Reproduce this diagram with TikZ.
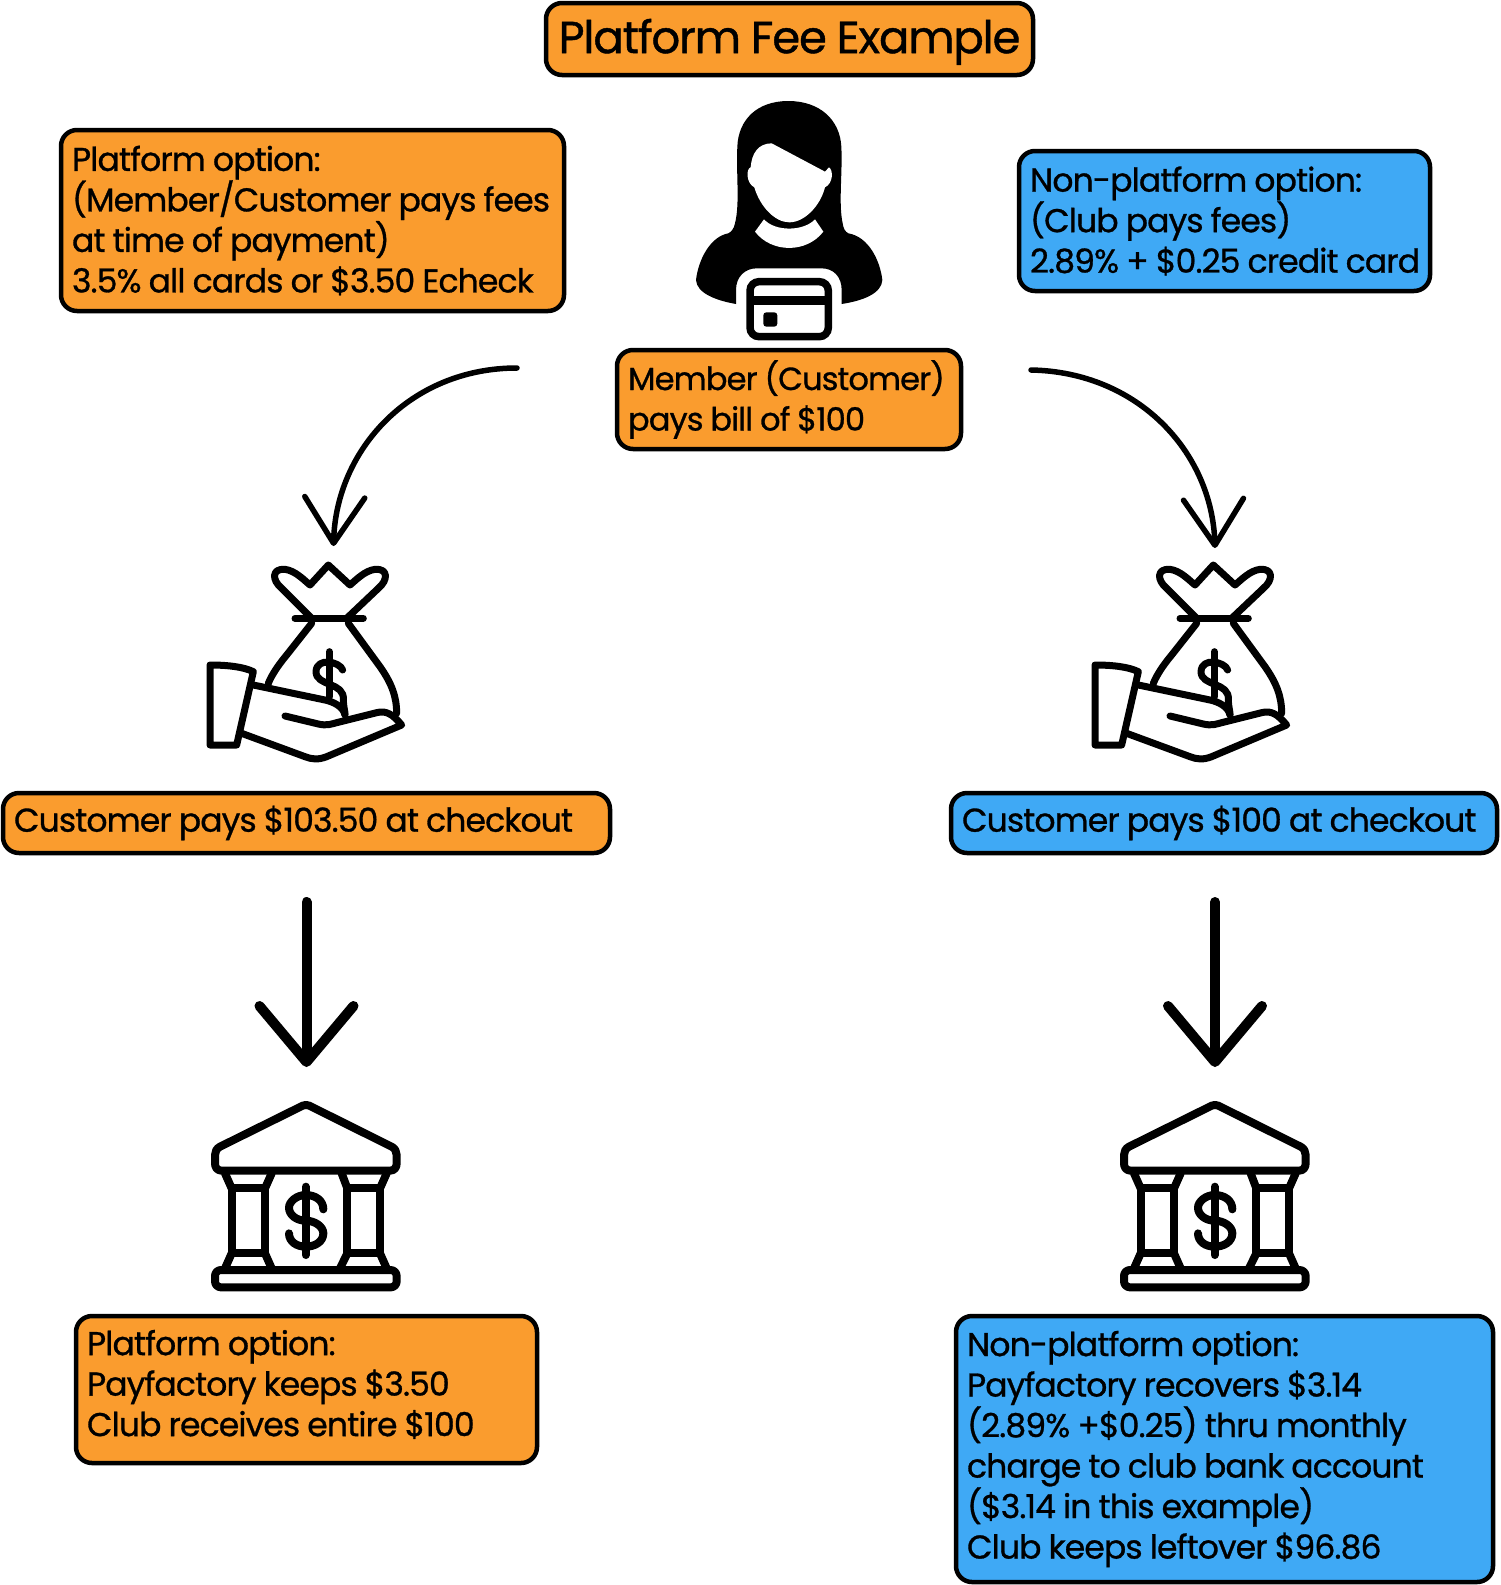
\documentclass[tikz,border=0pt]{standalone}
\usepackage{fontspec}
\setmainfont[FakeBold=0.9, LetterSpace=-2.6, WordSpace=0.9]{Poppins}
\usetikzlibrary{arrows.meta}
\definecolor{feeorange}{HTML}{FA9C2E}
\definecolor{feeblue}{HTML}{3FA9F5}

\begin{document}
\begin{tikzpicture}[x=1pt, y=-1pt,
  optionbox/.style={draw=black, line width=4.5pt, rounded corners=16pt, inner xsep=11pt, inner ysep=0pt, align=flush left, font=\fontsize{33}{40.5}\selectfont},
  orangebox/.style={optionbox, fill=feeorange},
  bluebox/.style={optionbox, fill=feeblue},
  lightflow/.style={line width=5.5pt, line cap=round, -{Straight Barb[length=46pt,width=60pt,round]}},
  heavyflow/.style={line width=10pt, line cap=round, -{Straight Barb[length=56pt,width=94pt,round]}},
  icon/.style={scale=1/3},
  moneybag/.pic={
    \begin{scope}[line width=7pt, line cap=round, line join=round]
    \draw (365,205) -- (275,115) .. controls (245,90) and (245,55) .. (285,58) .. controls (315,62) and (340,88) .. (360,105) -- (415,45) -- (480,105) .. controls (500,88) and (525,62) .. (555,58) .. controls (595,55) and (595,90) .. (565,115) -- (470,205);
    \draw (315,205) -- (520,205);
    \draw (365,220) -- (290,315) .. controls (265,345) and (245,375) .. (235,400);
    \draw (475,220) -- (570,350) .. controls (605,400) and (620,440) .. (620,490);
    \draw (418,305) -- (418,440);
    \draw (458,360) .. controls (450,335) and (380,320) .. (378,365) .. controls (378,410) and (465,395) .. (460,450) .. controls (460,470) and (465,480) .. (465,495);
    \draw (60,345) .. controls (110,345) and (160,350) .. (190,365) -- (140,585) -- (60,585) -- cycle;
    \draw (190,405) -- (405,450) .. controls (430,455) and (460,470) .. (465,495);
    \draw (285,498) -- (385,522) .. controls (410,528) and (425,522) .. (440,518) -- (560,488) .. controls (590,480) and (610,495) .. (635,525) -- (410,620) .. controls (385,630) and (365,628) .. (345,620) -- (155,550);
    \end{scope}
  },
  bankicon/.pic={
    \begin{scope}[line width=8pt, line cap=round, line join=round]
    \draw (348,242) -- (95,242) .. controls (80,242) and (75,230) .. (75,220) -- (75,195) .. controls (75,185) and (80,175) .. (90,170) -- (338,47) .. controls (345,44) and (351,44) .. (358,47) -- (605,170) .. controls (615,175) and (620,185) .. (620,195) -- (620,220) .. controls (620,230) and (615,242) .. (600,242) -- cycle;
    \draw[rounded corners=6pt] (75,540) rectangle (620,592);
    \draw (125,295) rectangle (225,490);
    \draw (472,295) rectangle (570,490);
    \draw (105,250) -- (125,295) (245,250) -- (225,295) (455,250) -- (472,295) (590,250) -- (570,295);
    \draw (125,490) -- (105,535) (225,490) -- (245,535) (472,490) -- (450,535) (570,490) -- (590,535);
    \draw (347,290) -- (347,495);
    \draw (400,358) .. controls (400,330) and (375,315) .. (347,315) .. controls (320,315) and (297,335) .. (297,353) .. controls (297,375) and (320,392) .. (347,392) .. controls (375,392) and (400,410) .. (400,430) .. controls (400,455) and (375,470) .. (347,470) .. controls (320,470) and (297,455) .. (297,430);
    \end{scope}
  },
  membericon/.pic={
    \fill (385,33) .. controls (290,33) and (235,90) .. (232,170) .. controls (228,250) and (240,340) .. (225,400) .. controls (222,415) and (215,425) .. (205,430) .. controls (150,440) and (115,510) .. (108,570) .. controls (110,610) and (170,632) .. (228,642) -- (228,600) .. controls (228,560) and (255,535) .. (290,535) -- (485,535) .. controls (520,535) and (545,560) .. (545,600) -- (545,642) .. controls (610,632) and (665,610) .. (667,570) .. controls (660,510) and (625,440) .. (565,430) .. controls (555,425) and (550,415) .. (548,400) .. controls (535,340) and (548,250) .. (544,170) .. controls (540,90) and (480,33) .. (385,33) -- cycle;
    \fill[white] (335,160) .. controls (295,160) and (275,190) .. (272,232) .. controls (258,235) and (258,280) .. (283,292) .. controls (300,350) and (345,397) .. (388,397) .. controls (432,397) and (480,350) .. (495,292) .. controls (520,280) and (520,240) .. (507,232) -- (495,245) -- cycle;
    \fill[white] (312,388) .. controls (345,425) and (430,425) .. (465,388) -- (490,425) .. controls (440,490) and (335,490) .. (285,425) -- cycle;
    \draw[line width=7.5pt, fill=white, rounded corners=9pt] (270,575) rectangle (505,740);
    \fill (275,617) rectangle (500,646);
    \fill[rounded corners=3pt] (310,667) rectangle (352,710);
  },
]
\path[use as bounding box] (0,0) rectangle (1500,1585);

\node[orangebox, minimum width=487pt, minimum height=72pt, align=center, font=\fontsize{45}{50}\selectfont] (title) at (789.5,39) {\rule{0pt}{40pt}Platform Fee Example};
\node[orangebox, text width=481pt, minimum height=181pt] (platformoption) at (312.5,220.5) {Platform option:\\\mbox{(Member/Customer pays fees}\\at time of payment)\\\mbox{3.5\% all cards or \$3.50 Echeck}};
\node[bluebox, text width=389pt, minimum height=140pt] (clubfees) at (1224.5,221) {Non-platform option:\\(Club pays fees)\\\mbox{2.89\% + \$0.25 credit card}};
\node[orangebox, text width=322pt, minimum height=99pt, font=\fontsize{32}{40.5}\selectfont] (member) at (789,399.5) {\mbox{Member (Customer)}\\pays bill of \$100};
\node[orangebox, text width=585pt, minimum height=60pt] (platformpays) at (306.5,823) {Customer pays \$103.50 at checkout};
\node[bluebox, text width=524pt, minimum height=60pt] (clubpays) at (1224,823) {\mbox{Customer pays \$100 at checkout}};
\node[orangebox, text width=439pt, minimum height=147pt] (platformkeeps) at (306.5,1389.5) {Platform option:\\Payfactory keeps \$3.50\\Club receives entire \$100\rule[-13pt]{0pt}{0pt}};
\node[bluebox, text width=515pt, minimum height=266pt] (clubkeeps) at (1224.5,1449) {Non-platform option:\\Payfactory recovers \$3.14\\(2.89\% +\$0.25) thru monthly\\charge to club bank account\\(\$3.14 in this example)\\Club keeps leftover \$96.86};

\pic[icon] (customer) at (660,90) {membericon};
\pic[icon] (bagleft) at (190,550) {moneybag};
\pic[icon] (bagright) at (1075,550) {moneybag};
\pic[icon] (bankleft) at (190,1090) {bankicon};
\pic[icon] (bankright) at (1099,1090) {bankicon};

\coordinate (payleft) at (517,368);
\coordinate (bagtopleft) at (333.5,546);
\coordinate (payright) at (1031,370);
\coordinate (bagtopright) at (1215,548);
\coordinate (checkoutleft) at (306.5,902);
\coordinate (banktopleft) at (306.5,1067);
\coordinate (checkoutright) at (1215,902);
\coordinate (banktopright) at (1215,1067);

\draw[lightflow] (payleft) .. controls (410,368) and (336,450) .. (bagtopleft);
\draw[lightflow] (payright) .. controls (1138,372) and (1212,452) .. (bagtopright);
\draw[heavyflow] (checkoutleft) -- (banktopleft);
\draw[heavyflow] (checkoutright) -- (banktopright);
\end{tikzpicture}
\end{document}
